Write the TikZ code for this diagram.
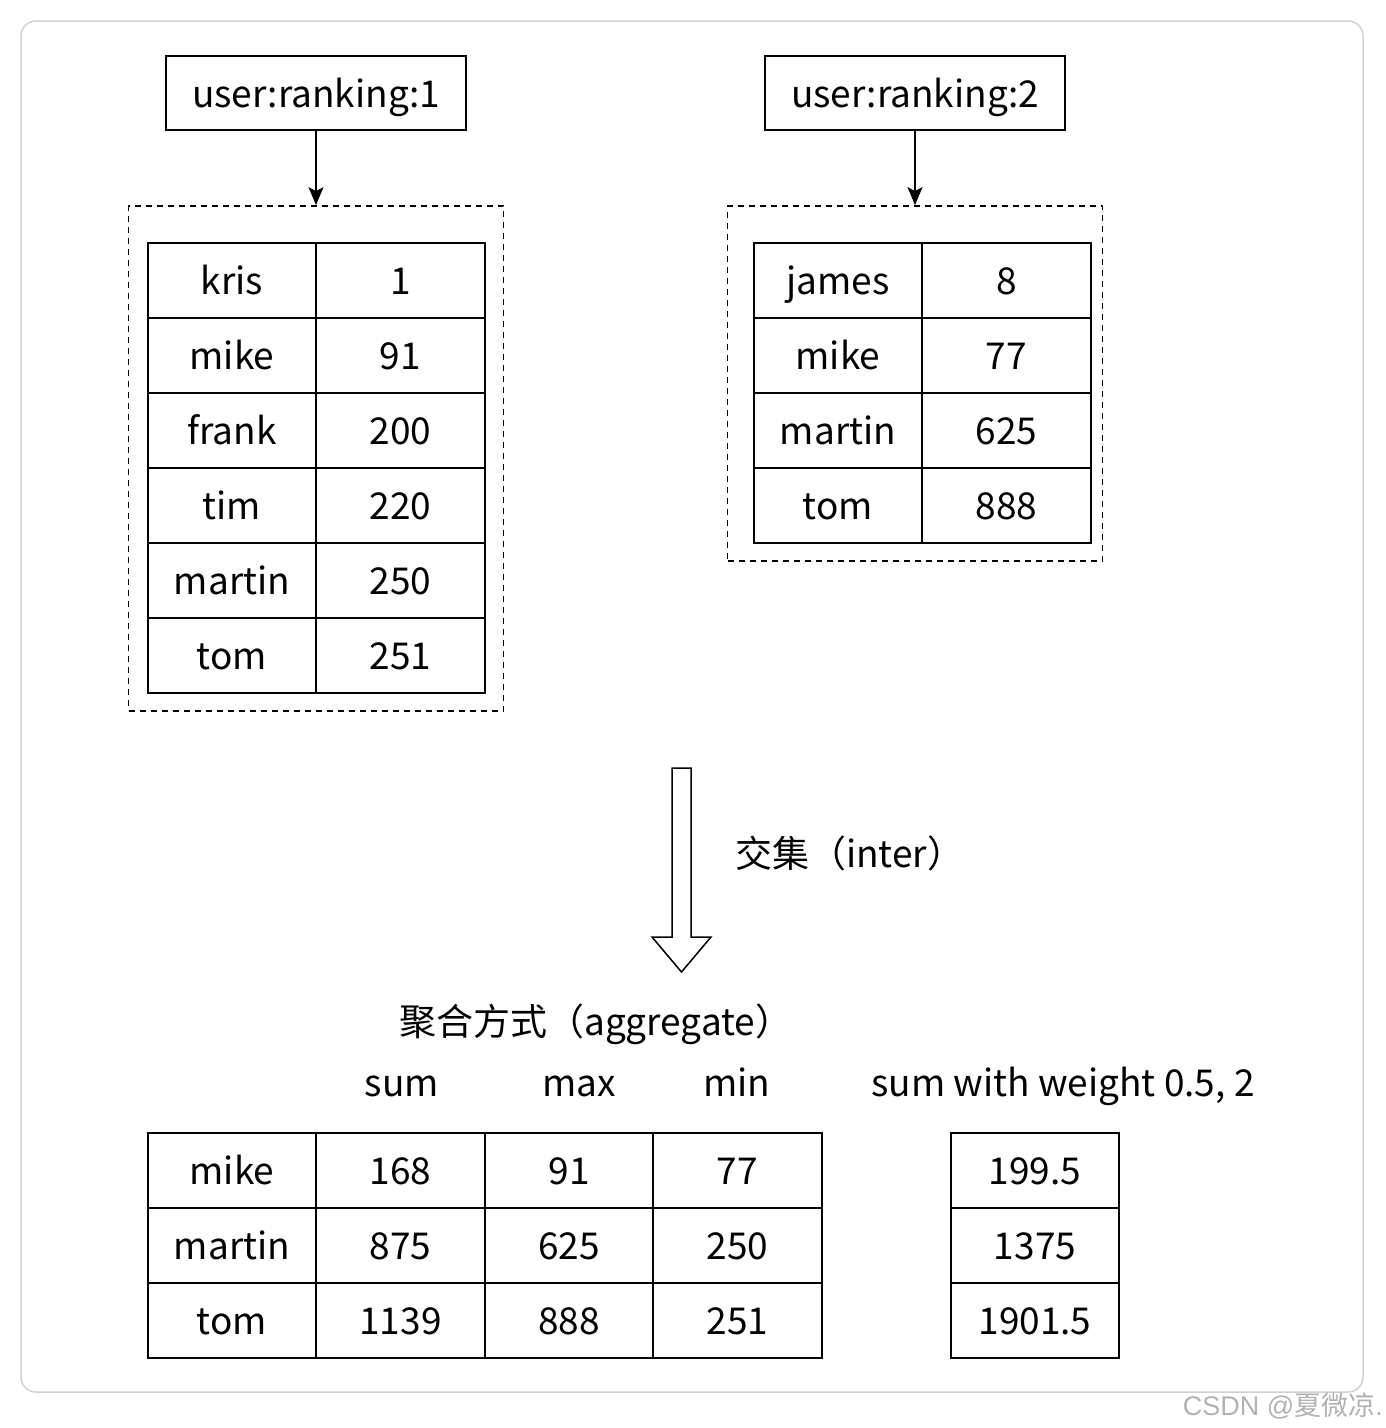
\documentclass[tikz,border=0pt]{standalone}
\usepackage{fontspec}
\setmainfont{Noto Sans CJK SC}
\newfontfamily\markfont{Liberation Sans}
\usetikzlibrary{arrows.meta}

\begin{document}
\begin{tikzpicture}[x=1pt, y=-1pt, >={Stealth[length=18pt,width=15pt,inset=4pt]},
	every node/.style={inner sep=0pt, font=\fontsize{37}{44}\selectfont, text height=29pt, text depth=0pt},
	cell/.style={rectangle, draw, line width=2pt, minimum width=168.5pt, minimum height=75pt},
	key/.style={rectangle, draw, line width=2pt, minimum width=300pt, minimum height=74pt},
	holder/.style={rectangle, draw, line width=1.8pt, dash pattern=on 6pt off 5pt, minimum width=375pt}]
	\useasboundingbox (0,0) rectangle (1386,1428);
	%Frame
	\draw[black!18, line width=1.5pt, rounded corners=15pt] (21,21) rectangle (1363,1392);
	%Keys
	\node [key] (key1) at (316,93) {user:ranking:1};
	\node [key] (key2) at (915,93) {user:ranking:2};
	%Sets
	\node [holder, minimum height=505pt] (set1) at (316,458.5) {};
	\node [holder, minimum height=355pt] (set2) at (915,383.5) {};
	\draw[->, line width=1.5pt] (key1) -- (set1);
	\draw[->, line width=1.5pt] (key2) -- (set2);
	\foreach \name/\score [count=\i] in {kris/1, mike/91, frank/200, tim/220, martin/250, tom/251}
	{
		\node [cell] (a\i) at (232,205+75*\i) {\name};
		\node [cell] (b\i) at (400.5,205+75*\i) {\score};
	}
	\foreach \name/\score [count=\i] in {james/8, mike/77, martin/625, tom/888}
	{
		\node [cell] (c\i) at (838,205+75*\i) {\name};
		\node [cell] (d\i) at (1006.5,205+75*\i) {\score};
	}
	%Inter
	\draw[line width=1.5pt] (672,768) -- (691,768) -- (691,937) -- (711,937) -- (681.5,972) -- (652,937) -- (672,937) -- cycle;
	\node [anchor=base west] (inter) at (735,867) {交集（inter）};
	%Aggregate
	\node [anchor=base west] (agg) at (399,1035) {聚合方式（aggregate）};
	\node [anchor=base] (hsum) at (402,1096) {sum};
	\node [anchor=base] (hmax) at (579,1096) {max};
	\node [anchor=base] (hmin) at (737,1096) {min};
	\node [anchor=base] (hweight) at (1063,1096) {sum with weight 0.5, 2};
	\foreach \name/\sum/\max/\min/\weight [count=\i] in {mike/168/91/77/199.5, martin/875/625/250/1375, tom/1139/888/251/1901.5}
	{
		\node [cell] (e\i) at (232,1095+75*\i) {\name};
		\node [cell] (f\i) at (400.5,1095+75*\i) {\sum};
		\node [cell] (g\i) at (569,1095+75*\i) {\max};
		\node [cell] (h\i) at (737.5,1095+75*\i) {\min};
		\node [cell] (w\i) at (1035,1095+75*\i) {\weight};
	}
	%Mark
	\node [anchor=base east, text=black!30, font=\markfont\fontsize{27}{30}\selectfont] (mark) at (1383,1415) {CSDN @{\fontspec{Noto Sans CJK SC}夏微凉}.};
\end{tikzpicture}
\end{document}
